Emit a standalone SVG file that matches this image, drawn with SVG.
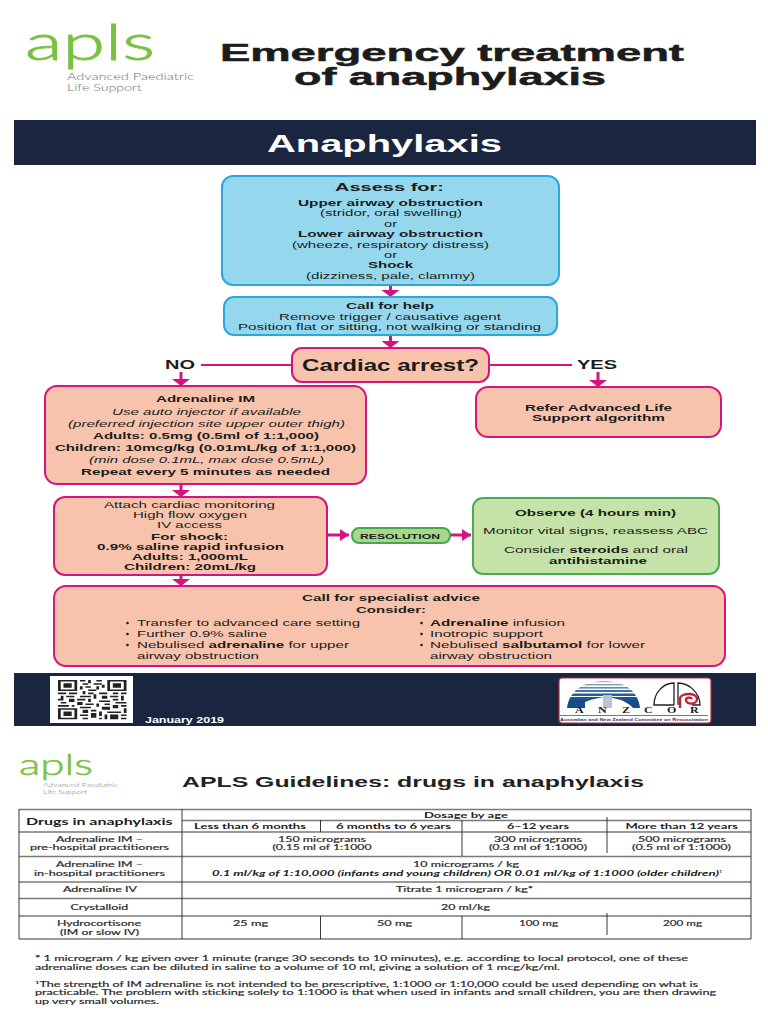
<svg xmlns="http://www.w3.org/2000/svg" width="768" height="1024" viewBox="0 0 768 1024">
<style>
text{font-family:"Liberation Sans",Arial,sans-serif;fill:#1c1c1c}
.b{font-weight:700}
.i{font-style:italic}
.box{stroke-width:2}
.pink{fill:#f7c3ac;stroke:#d5147f}
.blue{fill:#95d8ee;stroke:#2aa7dc}
.green{fill:#c5e3a8;stroke:#4fa950}
.bar{fill:#1a2540}
.fs{font-size:9.2px}
.heavy{stroke:#1c1c1c;stroke-width:.5px}
.conn{stroke:#d5147f;fill:none}
.logo{font-family:Lato,"Noto Sans",sans-serif;font-weight:300;fill:#7ac143;stroke:#7ac143;stroke-width:.8px}
.sub{font-family:Lato,"Noto Sans",sans-serif;font-weight:300;fill:#6e6e6e}
.t{font-family:Lato,"Noto Sans",sans-serif;font-size:7.4px;font-weight:400;fill:#2a2a2a;stroke:#2a2a2a;stroke-width:.18px}
.tb{font-weight:700;stroke:none;fill:#1c1c1c}
.hl{stroke:#7a7a7a;stroke-width:1.4;fill:none}
.vl{stroke:#222;stroke-width:.9;fill:none}
</style>
<defs>
<marker id="av" markerUnits="userSpaceOnUse" markerWidth="8" markerHeight="18" refX="7" refY="9" orient="auto"><polygon points="0,0 7,9 0,18" fill="#d5147f"/></marker>
<marker id="ah" markerUnits="userSpaceOnUse" markerWidth="10" markerHeight="12" refX="9" refY="6" orient="auto"><polygon points="0,0 9,6 0,12" fill="#d5147f"/></marker>
<clipPath id="dome"><path d="M567 708C569 690 585 681 604 681C623 681 638 690 640 708Z"/></clipPath>
</defs>
<g id="logo-top">
<text class="logo" x="25" y="60" font-size="50" textLength="130" lengthAdjust="spacingAndGlyphs">apls</text>
<text class="sub" x="67" y="80" font-size="10.5" textLength="127" lengthAdjust="spacingAndGlyphs">Advanced Paediatric</text>
<text class="sub" x="67" y="91" font-size="10.5" textLength="75" lengthAdjust="spacingAndGlyphs">Life Support</text>
</g>
<g id="title">
<text class="b heavy" x="220" y="60.500" font-size="24" textLength="464" lengthAdjust="spacingAndGlyphs">Emergency treatment</text>
<text class="b heavy" x="294" y="84.500" font-size="24" textLength="312" lengthAdjust="spacingAndGlyphs">of anaphylaxis</text>
</g>
<g id="banner">
<rect class="bar" x="14" y="120" width="742" height="45"/>
<text class="b" x="267" y="152" font-size="23" textLength="235" lengthAdjust="spacingAndGlyphs" style="fill:#fff">Anaphylaxis</text>
</g>
<g id="connectors">
<path class="conn" stroke-width="3" marker-end="url(#av)" d="M390.500 285V297"/>
<path class="conn" stroke-width="3" marker-end="url(#av)" d="M390.500 335V348"/>
<path class="conn" stroke-width="2" d="M201 365H292M489 365H572"/>
<path class="conn" stroke-width="3" marker-end="url(#av)" d="M181 372V386"/>
<path class="conn" stroke-width="3" marker-end="url(#av)" d="M598 372V387"/>
<path class="conn" stroke-width="3" marker-end="url(#av)" d="M181 484V497"/>
<path class="conn" stroke-width="3" marker-end="url(#av)" d="M181 575V586"/>
<path class="conn" stroke-width="3" marker-end="url(#ah)" d="M327 535H349"/>
<path class="conn" stroke-width="3" marker-end="url(#ah)" d="M450 535H471"/>
</g>
<g id="assess" class="fs">
<rect class="box blue" x="222" y="176" width="337" height="109" rx="11"/>
<text class="b" x="335" y="191" font-size="11.500" textLength="109" lengthAdjust="spacingAndGlyphs">Assess for:</text>
<text class="b" x="298" y="206" textLength="185" lengthAdjust="spacingAndGlyphs">Upper airway obstruction</text>
<text x="320" y="216" textLength="142" lengthAdjust="spacingAndGlyphs">(stridor, oral swelling)</text>
<text x="384" y="227" textLength="13" lengthAdjust="spacingAndGlyphs">or</text>
<text class="b" x="298" y="237" textLength="185" lengthAdjust="spacingAndGlyphs">Lower airway obstruction</text>
<text x="292" y="248" textLength="197" lengthAdjust="spacingAndGlyphs">(wheeze, respiratory distress)</text>
<text x="384" y="258" textLength="13" lengthAdjust="spacingAndGlyphs">or</text>
<text class="b" x="368" y="268" textLength="45" lengthAdjust="spacingAndGlyphs">Shock</text>
<text x="306" y="279" textLength="169" lengthAdjust="spacingAndGlyphs">(dizziness, pale, clammy)</text>
</g>
<g id="call-for-help" class="fs">
<rect class="box blue" x="224" y="297" width="333" height="38" rx="10"/>
<text class="b" x="346" y="309" textLength="88" lengthAdjust="spacingAndGlyphs">Call for help</text>
<text x="279" y="320" textLength="222" lengthAdjust="spacingAndGlyphs">Remove trigger / causative agent</text>
<text x="238" y="330" textLength="303" lengthAdjust="spacingAndGlyphs">Position flat or sitting, not walking or standing</text>
</g>
<g id="cardiac-arrest">
<rect class="box pink" x="292" y="348" width="197" height="34" rx="10"/>
<text class="b" x="302" y="371" font-size="17" textLength="177" lengthAdjust="spacingAndGlyphs">Cardiac arrest?</text>
</g>
<text id="no" class="b" x="165" y="369" font-size="12" textLength="30" lengthAdjust="spacingAndGlyphs">NO</text>
<text id="yes" class="b" x="577" y="369" font-size="12" textLength="40" lengthAdjust="spacingAndGlyphs">YES</text>
<g id="adrenaline-im" class="fs">
<rect class="box pink" x="45" y="386" width="321" height="98" rx="12"/>
<text class="b" x="156" y="402" textLength="99" lengthAdjust="spacingAndGlyphs">Adrenaline IM</text>
<text class="i" x="112" y="415" textLength="189" lengthAdjust="spacingAndGlyphs">Use auto injector if available</text>
<text class="i" x="68" y="427" textLength="277" lengthAdjust="spacingAndGlyphs">(preferred injection site upper outer thigh)</text>
<text class="b" x="93" y="439" textLength="226" lengthAdjust="spacingAndGlyphs">Adults: 0.5mg (0.5ml of 1:1,000)</text>
<text class="b" x="55" y="451" textLength="301" lengthAdjust="spacingAndGlyphs">Children: 10mcg/kg (0.01mL/kg of 1:1,000)</text>
<text class="i" x="89" y="463" textLength="235" lengthAdjust="spacingAndGlyphs">(min dose 0.1mL, max dose 0.5mL)</text>
<text class="b" x="81" y="475" textLength="249" lengthAdjust="spacingAndGlyphs">Repeat every 5 minutes as needed</text>
</g>
<g id="refer" class="fs">
<rect class="box pink" x="476" y="387" width="245" height="50" rx="12"/>
<text class="b" x="525" y="411" textLength="147" lengthAdjust="spacingAndGlyphs">Refer Advanced Life</text>
<text class="b" x="532" y="421" textLength="133" lengthAdjust="spacingAndGlyphs">Support algorithm</text>
</g>
<g id="attach" class="fs">
<rect class="box pink" x="54" y="497" width="273" height="78" rx="11"/>
<text x="104" y="508" textLength="171" lengthAdjust="spacingAndGlyphs">Attach cardiac monitoring</text>
<text x="133" y="518" textLength="114" lengthAdjust="spacingAndGlyphs">High flow oxygen</text>
<text x="157" y="528" textLength="65" lengthAdjust="spacingAndGlyphs">IV access</text>
<text class="b" x="151" y="540" textLength="77" lengthAdjust="spacingAndGlyphs">For shock:</text>
<text class="b" x="97" y="550" textLength="187" lengthAdjust="spacingAndGlyphs">0.9% saline rapid infusion</text>
<text class="b" x="132" y="560" textLength="116" lengthAdjust="spacingAndGlyphs">Adults: 1,000mL</text>
<text class="b" x="124" y="570" textLength="132" lengthAdjust="spacingAndGlyphs">Children: 20mL/kg</text>
</g>
<g id="resolution">
<rect x="352" y="528" width="98" height="15" rx="7" fill="#a8d68a" stroke="#44a84c" stroke-width="2"/>
<text class="b" x="360" y="538.500" font-size="8" textLength="80" lengthAdjust="spacingAndGlyphs">RESOLUTION</text>
</g>
<g id="observe" class="fs">
<rect class="box green" x="473" y="498" width="246" height="76" rx="10"/>
<text class="b" x="515" y="516" textLength="161" lengthAdjust="spacingAndGlyphs">Observe (4 hours min)</text>
<text x="483" y="534" textLength="225" lengthAdjust="spacingAndGlyphs">Monitor vital signs, reassess ABC</text>
<text x="504" y="553" textLength="184" lengthAdjust="spacingAndGlyphs">Consider <tspan class="b">steroids</tspan> and oral</text>
<text class="b" x="549" y="564" textLength="98" lengthAdjust="spacingAndGlyphs">antihistamine</text>
</g>
<g id="specialist" class="fs">
<rect class="box pink" x="54" y="586" width="671" height="80" rx="12"/>
<text class="b" x="302" y="601" textLength="178" lengthAdjust="spacingAndGlyphs">Call for specialist advice</text>
<text class="b" x="356" y="613" textLength="70" lengthAdjust="spacingAndGlyphs">Consider:</text>
<circle cx="127.500" cy="623" r="1.300" fill="#1c1c1c"/><circle cx="127.500" cy="634" r="1.300" fill="#1c1c1c"/><circle cx="127.500" cy="645" r="1.300" fill="#1c1c1c"/>
<circle cx="421.500" cy="623" r="1.300" fill="#1c1c1c"/><circle cx="421.500" cy="634" r="1.300" fill="#1c1c1c"/><circle cx="421.500" cy="645" r="1.300" fill="#1c1c1c"/>
<text x="137" y="626" textLength="223" lengthAdjust="spacingAndGlyphs">Transfer to advanced care setting</text>
<text x="137" y="637" textLength="130" lengthAdjust="spacingAndGlyphs">Further 0.9% saline</text>
<text x="137" y="648" textLength="212" lengthAdjust="spacingAndGlyphs">Nebulised <tspan class="b">adrenaline</tspan> for upper</text>
<text x="137" y="659" textLength="122" lengthAdjust="spacingAndGlyphs">airway obstruction</text>
<text x="430" y="626" textLength="135" lengthAdjust="spacingAndGlyphs"><tspan class="b">Adrenaline</tspan> infusion</text>
<text x="430" y="637" textLength="113" lengthAdjust="spacingAndGlyphs">Inotropic support</text>
<text x="430" y="648" textLength="215" lengthAdjust="spacingAndGlyphs">Nebulised <tspan class="b">salbutamol</tspan> for lower</text>
<text x="430" y="659" textLength="122" lengthAdjust="spacingAndGlyphs">airway obstruction</text>
</g>
<g id="footer">
<rect class="bar" x="14" y="673" width="742" height="53"/>
<rect x="50" y="676" width="83" height="47" fill="#fff"/>
<g transform="translate(58,680) scale(2.74,1.57)" fill="#222">
<path fill-rule="evenodd" d="M0 0h7v7h-7zM1 1v5h5v-5zM2 2h3v3h-3zM18 0h7v7h-7zM19 1v5h5v-5zM20 2h3v3h-3zM0 18h7v7h-7zM1 19v5h5v-5zM2 20h3v3h-3z"/>
<path d="M8 0h2v1h-2zM11 0h1v2h-1zM14 0h2v1h-2zM9 2h2v1h-2zM13 2h3v1h-3zM8 4h1v2h-1zM10 4h2v1h-2zM14 4h1v2h-1zM16 3h1v2h-1zM11 6h3v1h-3zM9 7h1v2h-1zM0 8h3v1h-3zM4 8h3v1h-3zM11 8h2v1h-2zM15 8h3v1h-3zM20 8h2v1h-2zM23 8h2v1h-2zM1 10h1v2h-1zM3 10h3v1h-3zM8 10h4v1h-4zM13 9h1v3h-1zM16 10h2v2h-2zM19 10h3v1h-3zM23 10h1v3h-1zM0 12h2v1h-2zM4 12h2v2h-2zM7 12h3v1h-3zM11 12h1v2h-1zM15 13h4v1h-4zM20 12h2v1h-2zM1 14h2v1h-2zM7 14h2v2h-2zM10 15h3v1h-3zM14 15h1v2h-1zM17 15h2v1h-2zM21 14h4v1h-4zM0 16h4v1h-4zM5 16h1v1h-1zM8 17h4v1h-4zM16 17h3v2h-3zM20 16h2v2h-2zM23 16h2v1h-2zM9 19h2v2h-2zM12 19h2v1h-2zM15 20h1v3h-1zM18 20h5v1h-5zM24 18h1v3h-1zM8 22h3v1h-3zM12 21h2v3h-2zM17 22h1v3h-1zM19 22h3v3h-3zM23 22h2v1h-2zM9 24h2v1h-2zM15 24h1v1h-1zM23 24h2v1h-2z"/>
</g>
<text class="b" x="145" y="723" font-size="8.500" textLength="79" lengthAdjust="spacingAndGlyphs" style="fill:#fff">January 2019</text>
</g>
<g id="anzcor">
<rect x="559" y="678" width="152" height="45" rx="3" fill="#fff" stroke="#b92a3e" stroke-width="1.200"/>
<g clip-path="url(#dome)">
<rect x="565" y="681" width="78" height="1.200" fill="#9fb6cf"/>
<rect x="565" y="684" width="78" height="1.400" fill="#7f9fc0"/>
<rect x="565" y="687" width="78" height="1.600" fill="#5f88b3"/>
<rect x="565" y="690" width="78" height="2" fill="#3f72a6"/>
<rect x="565" y="693.500" width="78" height="2.500" fill="#265f97"/>
<rect x="565" y="697" width="78" height="3" fill="#1c5590"/>
<rect x="565" y="700" width="78" height="8" fill="#174d86"/>
</g>
<path fill="#fff" d="M585 709V702C592 699 600 698 603 697V709ZM612 709V698C620 699 628 702 634 709Z"/>
<rect x="603" y="695" width="9" height="13" fill="#b9c4d2"/>
<path fill="none" stroke="#222" stroke-width="1.300" d="M674 705V683C662 683 654 694 654 705H674M678 705V683C690 683 700 694 700 705H692"/>
<path fill="none" stroke="#c22033" stroke-width="2.400" d="M680 708V698C681 693 697 692 697 699C697 705 686 705 686 700C686 697 691 697 692 699"/>
<text class="b" transform="matrix(1.6 0 0 1 0 713)" x="359.400 373.750 388.750 402.500 416.900 431.250" y="0" font-size="7.500" style="font-family:'Liberation Serif',serif">ANZCOR</text>
<rect x="560" y="715" width="148" height=".8" fill="#b92a3e"/>
<text class="b" x="560" y="720.700" font-size="4.200" textLength="148" lengthAdjust="spacingAndGlyphs" style="fill:#1a3c6e">Australian and New Zealand Committee on Resuscitation</text>
</g>
<g id="logo-bottom">
<text class="logo" x="19" y="775" font-size="29" textLength="74" lengthAdjust="spacingAndGlyphs" style="stroke-width:.5px">apls</text>
<text class="sub" x="43" y="787" font-size="5.800" textLength="75" lengthAdjust="spacingAndGlyphs">Advanced Paediatric</text>
<text class="sub" x="43" y="793.500" font-size="5.800" textLength="44" lengthAdjust="spacingAndGlyphs">Life Support</text>
</g>
<text id="guidelines-title" class="b" x="182" y="787" font-size="15.500" textLength="462" lengthAdjust="spacingAndGlyphs" style="fill:#222">APLS Guidelines: drugs in anaphylaxis</text>
<g id="table">
<path class="hl" d="M19 809.500H751M182 820.500H751M19 832H751M19 856.500H751M19 882H751M19 898.500H751M19 916H751M19 939H751"/>
<path class="vl" d="M19 809V939M182 809V939M320.500 820V832M462 820V856M607 817V853M751 809V939M320.500 916V939M462 916V939M607 913V935"/>
<text class="t tb" x="424" y="817.500" textLength="84" lengthAdjust="spacingAndGlyphs">Dosage by age</text>
<text class="t tb" x="26" y="825" style="font-size:9.500px" textLength="146.500" lengthAdjust="spacingAndGlyphs">Drugs in anaphylaxis</text>
<text class="t tb" x="194" y="829" textLength="112" lengthAdjust="spacingAndGlyphs">Less than 6 months</text>
<text class="t tb" x="336" y="829" textLength="115" lengthAdjust="spacingAndGlyphs">6 months to 6 years</text>
<text class="t tb" x="507" y="829" textLength="62" lengthAdjust="spacingAndGlyphs">6–12 years</text>
<text class="t tb" x="625.500" y="829" textLength="112.500" lengthAdjust="spacingAndGlyphs">More than 12 years</text>
<text class="t" x="56" y="841.500" textLength="87" lengthAdjust="spacingAndGlyphs">Adrenaline IM –</text>
<text class="t" x="30" y="850" textLength="139" lengthAdjust="spacingAndGlyphs">pre-hospital practitioners</text>
<text class="t" x="278" y="841.500" textLength="88" lengthAdjust="spacingAndGlyphs">150 micrograms</text>
<text class="t" x="272.500" y="850" textLength="99" lengthAdjust="spacingAndGlyphs">(0.15 ml of 1:1000</text>
<text class="t" x="494" y="841.500" textLength="88" lengthAdjust="spacingAndGlyphs">300 micrograms</text>
<text class="t" x="489" y="850" textLength="98" lengthAdjust="spacingAndGlyphs">(0.3 ml of 1:1000)</text>
<text class="t" x="638" y="841.500" textLength="88" lengthAdjust="spacingAndGlyphs">500 micrograms</text>
<text class="t" x="632" y="850" textLength="99" lengthAdjust="spacingAndGlyphs">(0.5 ml of 1:1000)</text>
<text class="t" x="56" y="867" textLength="87" lengthAdjust="spacingAndGlyphs">Adrenaline IM –</text>
<text class="t" x="34" y="876" textLength="131" lengthAdjust="spacingAndGlyphs">in-hospital practitioners</text>
<text class="t" x="413" y="867" textLength="106" lengthAdjust="spacingAndGlyphs">10 micrograms / kg</text>
<text class="t tb i" x="212" y="876" textLength="507" lengthAdjust="spacingAndGlyphs">0.1 ml/kg of 1:10,000 (infants and young children) OR 0.01 ml/kg of 1:1000 (older children)</text>
<text class="t" x="719.500" y="872.500" style="font-size:4px">1</text>
<text class="t" x="63" y="892" textLength="74" lengthAdjust="spacingAndGlyphs">Adrenaline IV</text>
<text class="t" x="396" y="892" textLength="137" lengthAdjust="spacingAndGlyphs">Titrate 1 microgram / kg*</text>
<text class="t" x="70.600" y="910" textLength="57.500" lengthAdjust="spacingAndGlyphs">Crystalloid</text>
<text class="t" x="441" y="910" textLength="49" lengthAdjust="spacingAndGlyphs">20 ml/kg</text>
<text class="t" x="57" y="926" textLength="84" lengthAdjust="spacingAndGlyphs">Hydrocortisone</text>
<text class="t" x="60" y="934.500" textLength="79" lengthAdjust="spacingAndGlyphs">(IM or slow IV)</text>
<text class="t" x="233" y="926" textLength="35" lengthAdjust="spacingAndGlyphs">25 mg</text>
<text class="t" x="377" y="926" textLength="35" lengthAdjust="spacingAndGlyphs">50 mg</text>
<text class="t" x="519" y="926" textLength="39" lengthAdjust="spacingAndGlyphs">100 mg</text>
<text class="t" x="663" y="926" textLength="39" lengthAdjust="spacingAndGlyphs">200 mg</text>
</g>
<g id="footnotes">
<text class="t" x="35" y="961" textLength="653" lengthAdjust="spacingAndGlyphs">* 1 microgram / kg given over 1 minute (range 30 seconds to 10 minutes), e.g. according to local protocol, one of these</text>
<text class="t" x="35" y="969.500" textLength="525" lengthAdjust="spacingAndGlyphs">adrenaline doses can be diluted in saline to a volume of 10 ml, giving a solution of 1 mcg/kg/ml.</text>
<text class="t" x="35" y="986.500" textLength="663" lengthAdjust="spacingAndGlyphs"><tspan font-size="4.500" dy="-2.500">1</tspan><tspan dy="2.500">The strength of IM adrenaline is not intended to be prescriptive, 1:1000 or 1:10,000 could be used depending on what is</tspan></text>
<text class="t" x="35" y="995" textLength="681" lengthAdjust="spacingAndGlyphs">practicable. The problem with sticking solely to 1:1000 is that when used in infants and small children, you are then drawing</text>
<text class="t" x="35" y="1003.500" textLength="124" lengthAdjust="spacingAndGlyphs">up very small volumes.</text>
</g>
</svg>
